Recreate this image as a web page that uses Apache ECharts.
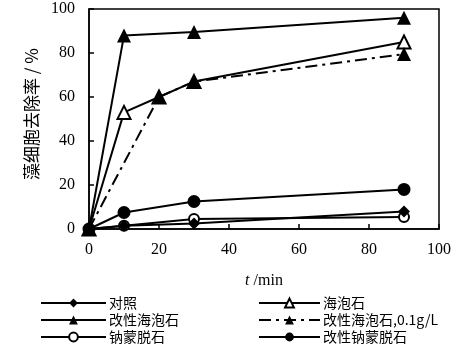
<!DOCTYPE html>
<html>
<head>
<meta charset="utf-8">
<script src="https://cdn.jsdelivr.net/npm/echarts@6/dist/echarts.min.js"></script>
<style>
  html, body { margin: 0; padding: 0; background: #fff; }
  #chart { width: 474px; height: 351px; }
</style>
</head>
<body>
<div id="chart"></div>
<script>
// 数据
var tBasic = [0, 10, 30, 90];
var tSep = [0, 10, 20, 30, 90];
var tSep01 = [0, 20, 30, 90];
var duizhao = [0, 1.5, 2.5, 8];
var haipaoshi = [0, 53, 60, 67, 85];
var gxHaipaoshi = [0, 88, 89.5, 96];
var gxHaipaoshi01 = [0, 60, 67, 79.5];
var namengtuoshi = [0, 1.5, 4.5, 5.5];
var gxNamengtuoshi = [0, 7.5, 12.5, 18];

function pairs(xs, ys) {
    return xs.map(function (x, i) { return [x, ys[i]]; });
}

var serif = '"Liberation Serif", "Noto Sans CJK SC", serif';
var cjk = '"Noto Sans CJK SC", "Liberation Serif", sans-serif';

function mkSeries(name, xs, ys, symbol, size, filled, dash, z) {
    return {
        name: name,
        type: 'line',
        data: pairs(xs, ys),
        symbol: symbol,
        symbolSize: size,
        showSymbol: true,
        lineStyle: { color: '#000', width: 2, type: dash || 'solid' },
        itemStyle: { color: filled ? '#000' : '#fff', borderColor: '#000', borderWidth: filled ? 0 : 2 },
        z: z
    };
}

var legendText = { fontFamily: cjk, fontSize: 14, color: '#000', padding: [0, 0, 0, -2] };

var myChart = echarts.init(document.getElementById('chart'));
var option = {
    animation: false,
    grid: { left: 89, right: 35, top: 9, bottom: 122, show: true, borderColor: '#000', borderWidth: 1.5 },
    xAxis: {
        type: 'value', min: 0, max: 100, interval: 20,
        name: '{i|t} /min',
        nameLocation: 'middle', nameGap: 44,
        nameTextStyle: {
            fontFamily: serif, fontSize: 16, color: '#000',
            rich: { i: { fontStyle: 'italic', fontFamily: serif, fontSize: 16, color: '#000' } }
        },
        axisLine: { lineStyle: { color: '#000', width: 1.5 } },
        axisTick: { inside: true, length: 5, lineStyle: { color: '#000', width: 1.5 } },
        axisLabel: { fontFamily: serif, fontSize: 16, color: '#000', margin: 13 },
        splitLine: { show: false }
    },
    yAxis: {
        type: 'value', min: 0, max: 100, interval: 20,
        name: '藻细胞去除率 / %',
        nameLocation: 'middle', nameGap: 46,
        nameTextStyle: { fontFamily: cjk, fontSize: 17, color: '#000', padding: [0, 0, 0, 10] },
        axisLine: { lineStyle: { color: '#000', width: 1.5 } },
        axisTick: { inside: true, length: 5, lineStyle: { color: '#000', width: 1.5 } },
        axisLabel: { fontFamily: serif, fontSize: 16, color: '#000', margin: 14 },
        splitLine: { show: false }
    },
    legend: [
        {
            left: 40, top: 296, height: 60, orient: 'vertical', padding: 0,
            itemWidth: 65, itemHeight: 11, itemGap: 3,
            textStyle: legendText,
            data: ['对照', '改性海泡石', '钠蒙脱石']
        },
        {
            left: 258, top: 296, height: 60, orient: 'vertical', padding: 0,
            itemWidth: 61, itemHeight: 11, itemGap: 3,
            textStyle: legendText,
            data: ['海泡石', '改性海泡石,0.1g/L', '改性钠蒙脱石']
        }
    ],
    series: [
        mkSeries('对照', tBasic, duizhao, 'diamond', 12, true, null, 5),
        mkSeries('海泡石', tSep, haipaoshi, 'triangle', 13, false, null, 2),
        mkSeries('改性海泡石', tBasic, gxHaipaoshi, 'triangle', 14, true, null, 4),
        mkSeries('改性海泡石,0.1g/L', tSep01, gxHaipaoshi01, 'triangle', 14, true, [12, 5, 3, 5], 4),
        mkSeries('钠蒙脱石', tBasic, namengtuoshi, 'circle', 10, false, null, 3),
        mkSeries('改性钠蒙脱石', tBasic, gxNamengtuoshi, 'circle', 13, true, null, 4)
    ]
};
myChart.setOption(option);
</script>
</body>
</html>
